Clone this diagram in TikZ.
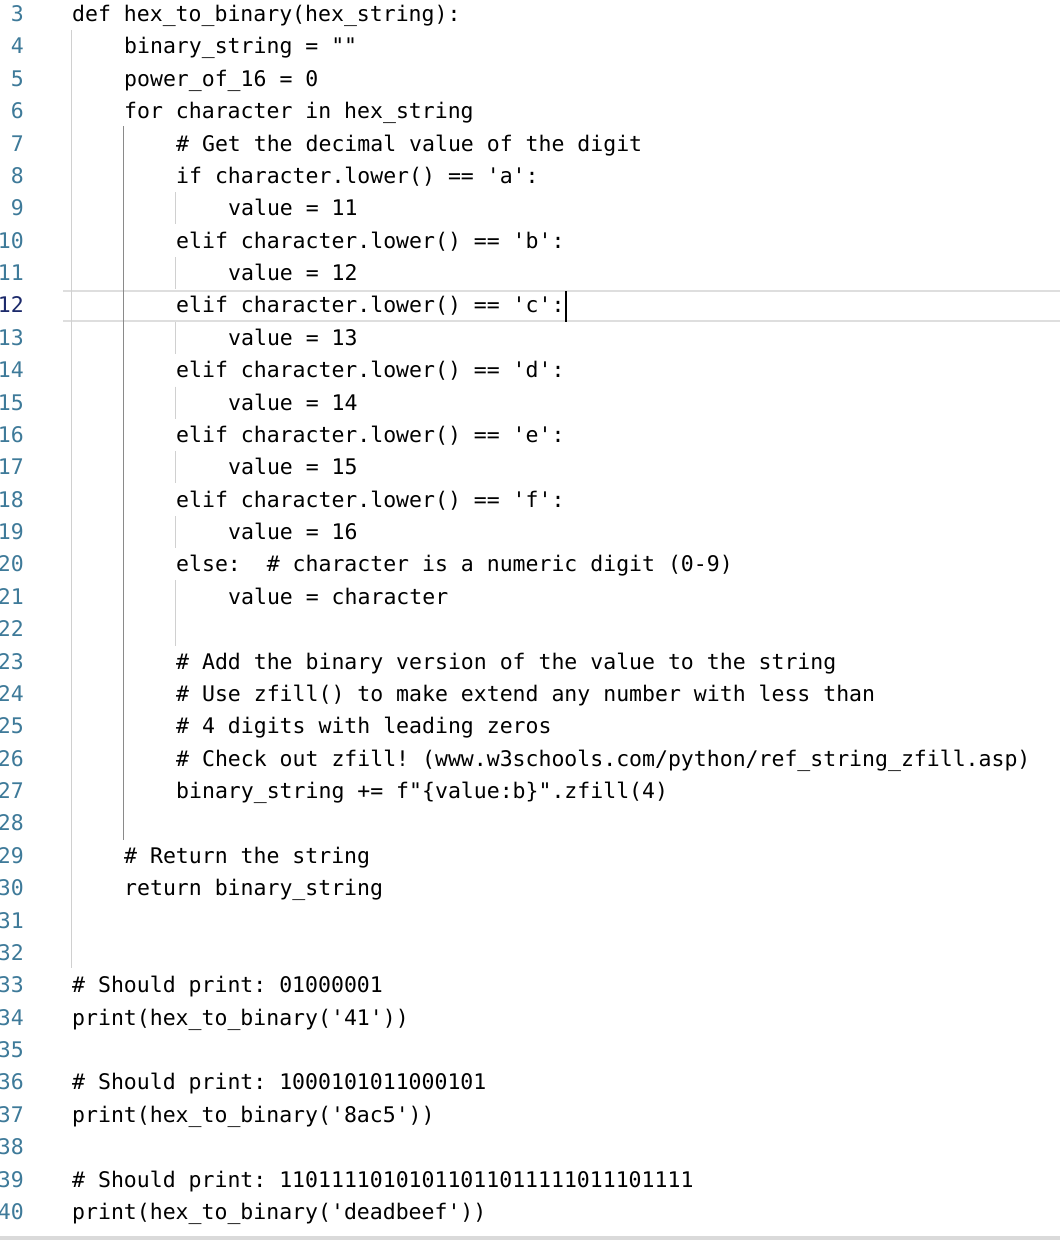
\documentclass[tikz,border=0pt]{standalone}
\usepackage{fontspec}
\setmonofont{DejaVu Sans Mono}
\definecolor{lnum}{HTML}{3E7A99}
\definecolor{lcur}{HTML}{1C2A6B}
\definecolor{guide}{HTML}{D0D0D0}
\definecolor{guideact}{HTML}{8A8A8A}
\begin{document}
\begin{tikzpicture}[x=1pt,y=-1pt,
  code/.style={anchor=base west,inner sep=0pt,font=\ttfamily\fontsize{21.5}{24}\selectfont,text=black},
  num/.style={anchor=base east,inner sep=0pt,font=\ttfamily\fontsize{21.5}{24}\selectfont,text=lnum}]
\useasboundingbox (0,0) rectangle (1060,1240);
\fill[white] (0,0) rectangle (1060,1240);
\def\LY#1{\fpeval{14+(#1-3)*32.378+7.5}}
% current line highlight
\draw[guide!70,line width=2.5pt] (63,291) -- (1060,291) (63,321) -- (1060,321);
% indent guides
\draw[guide,line width=1.5pt] (71.5,30) -- (71.5,968);
\draw[guideact,line width=1.5pt] (123.5,126) -- (123.5,840);
\foreach \k in {9,11,13,15,17,19}{
  \draw[guide,line width=1.5pt] (175.5,{14+(\k-3)*32.378-16}) -- (175.5,{14+(\k-3)*32.378+16});
}
\draw[guide,line width=1.5pt] (175.5,580) -- (175.5,646);
% line numbers
\foreach \k in {3,...,40}{
  \ifnum\k=12
    \node[num,text=lcur] (n\k) at (24,{\LY{\k}}) {\k};
  \else
    \node[num] (n\k) at (24,{\LY{\k}}) {\k};
  \fi
}
\newcommand\cl[3]{\node[code] (c#1) at ({72+13*#2},{\LY{#1}}) {#3};}
\cl{3}{0}{def hex\_to\_binary(hex\_string):}
\cl{4}{4}{binary\_string = ""}
\cl{5}{4}{power\_of\_16 = 0}
\cl{6}{4}{for character in hex\_string}
\cl{7}{8}{\# Get the decimal value of the digit}
\cl{8}{8}{if character.lower() == 'a':}
\cl{9}{12}{value = 11}
\cl{10}{8}{elif character.lower() == 'b':}
\cl{11}{12}{value = 12}
\cl{12}{8}{elif character.lower() == 'c':}
\cl{13}{12}{value = 13}
\cl{14}{8}{elif character.lower() == 'd':}
\cl{15}{12}{value = 14}
\cl{16}{8}{elif character.lower() == 'e':}
\cl{17}{12}{value = 15}
\cl{18}{8}{elif character.lower() == 'f':}
\cl{19}{12}{value = 16}
\cl{20}{8}{else:\ \ \# character is a numeric digit (0-9)}
\cl{21}{12}{value = character}
\cl{23}{8}{\# Add the binary version of the value to the string}
\cl{24}{8}{\# Use zfill() to make extend any number with less than}
\cl{25}{8}{\# 4 digits with leading zeros}
\cl{26}{8}{\# Check out zfill! (www.w3schools.com/python/ref\_string\_zfill.asp)}
\cl{27}{8}{binary\_string += f"\{value:b\}".zfill(4)}
\cl{29}{4}{\# Return the string}
\cl{30}{4}{return binary\_string}
\cl{33}{0}{\# Should print: 01000001}
\cl{34}{0}{print(hex\_to\_binary('41'))}
\cl{36}{0}{\# Should print: 1000101011000101}
\cl{37}{0}{print(hex\_to\_binary('8ac5'))}
\cl{39}{0}{\# Should print: 11011110101011011011111011101111}
\cl{40}{0}{print(hex\_to\_binary('deadbeef'))}
% cursor
\draw[black,line width=2pt] (566,291) -- (566,322);
% bottom band
\fill[guide!80] (0,1236) rectangle (1060,1240);
\end{tikzpicture}
\end{document}
